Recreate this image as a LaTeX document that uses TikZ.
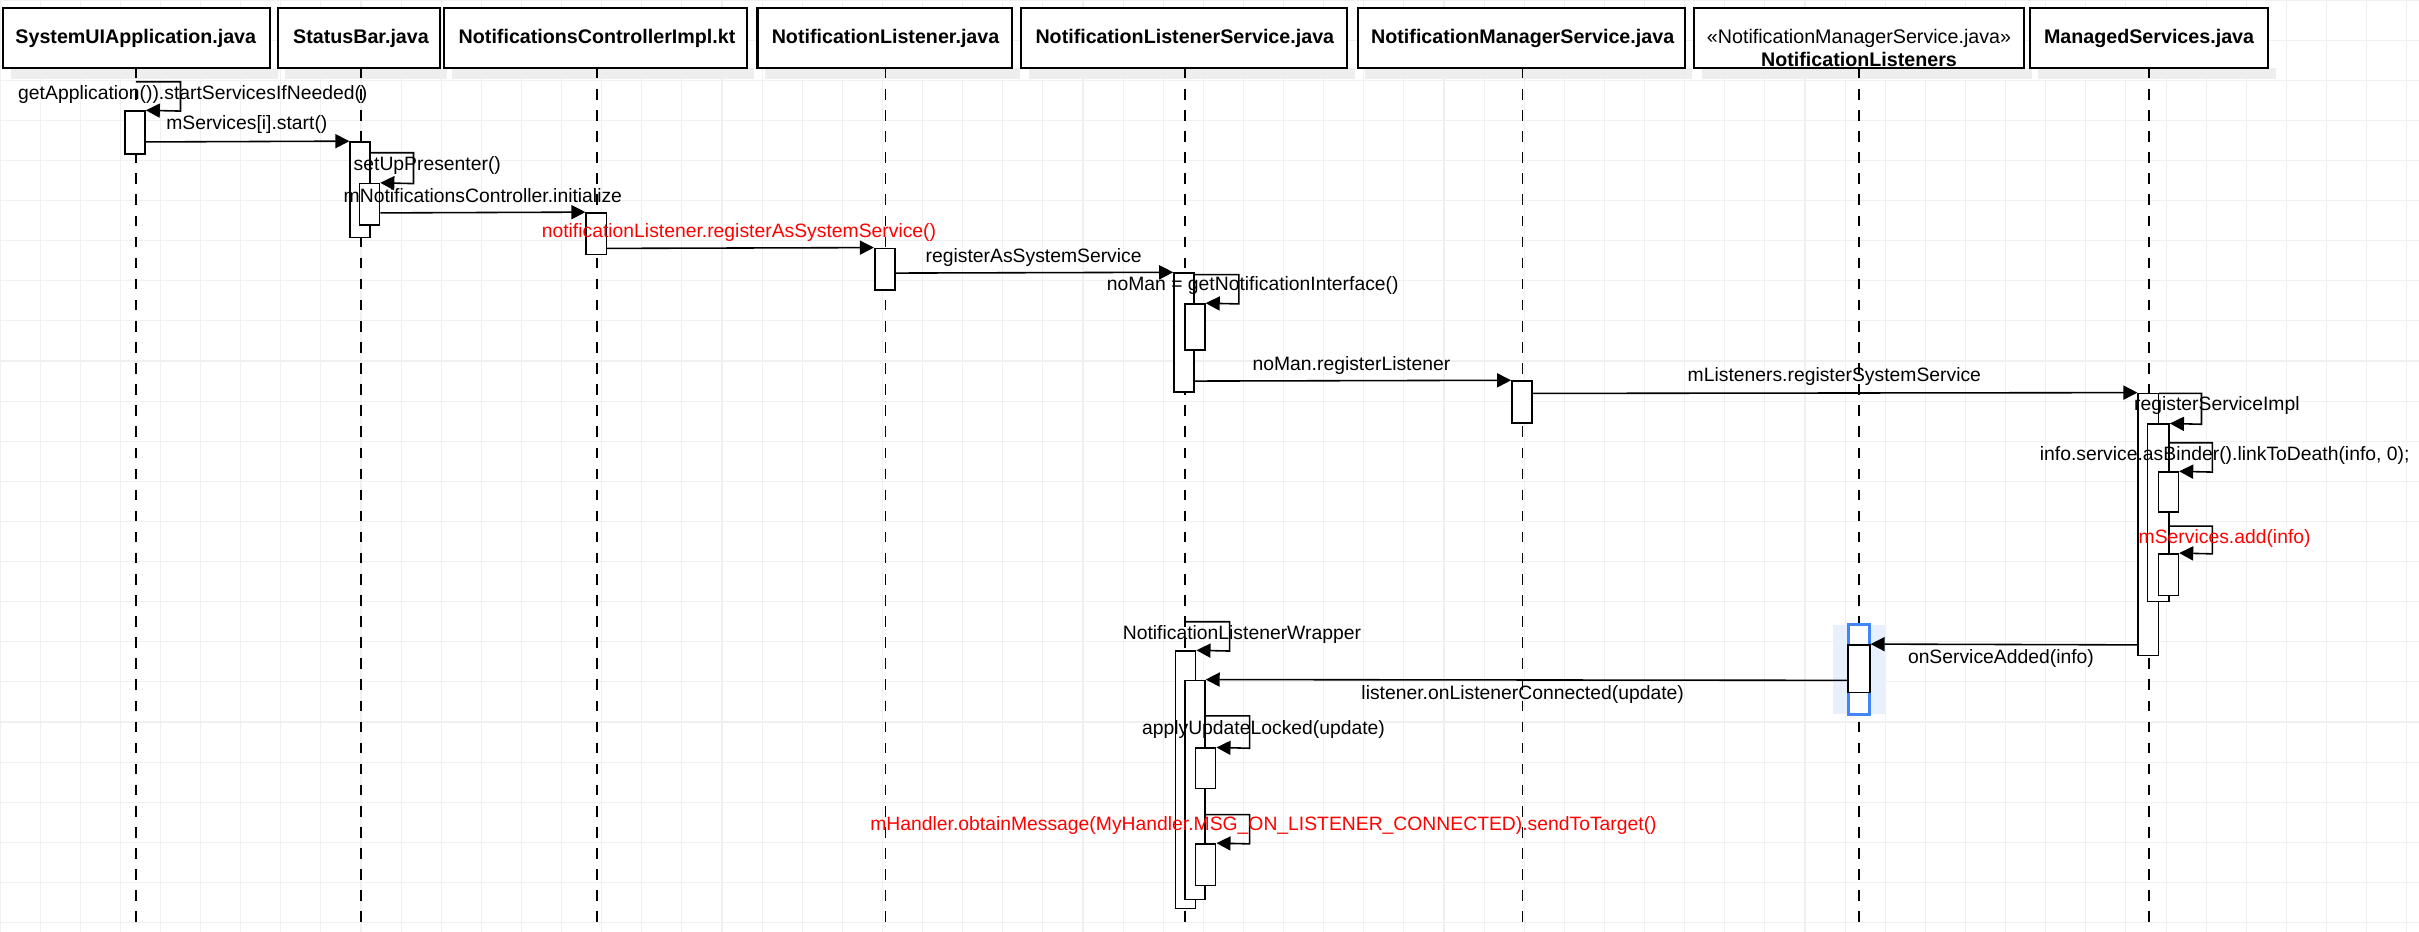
\documentclass[tikz,border=0pt]{standalone}
\usepackage{fontspec}
\setmainfont{Liberation Sans}
\usetikzlibrary{arrows.meta,fit}
\definecolor{gridgray}{RGB}{240,240,240}
\definecolor{selblue}{RGB}{66,133,244}
\tikzset{x=0.015427cm,y=-0.015427cm,
	head/.style={draw,line width=0.6pt,fill=white,inner sep=0pt,font=\fontsize{5.6}{6.6}\selectfont\bfseries,align=center},
	shade/.style={fill=gray!13,draw=none},
	life/.style={dashed,line width=0.45pt},
	act/.style={draw,line width=0.45pt,fill=white,inner sep=0pt},
	msg/.style={line width=0.45pt,-{Triangle[length=4pt,width=4pt]}},
	lbl/.style={font=\fontsize{5.5}{6.5}\selectfont,inner sep=0pt},
	hot/.style={lbl,text=red}}
\begin{document}
\begin{tikzpicture}
	\useasboundingbox (0,0) rectangle (1568,604);
	% background grid
	\foreach \gx in {0,26,...,1568} \draw[gridgray,line width=0.3pt] (\gx,0) -- (\gx,604);
	\foreach \gy in {0,26,...,604} \draw[gridgray,line width=0.3pt] (0,\gy) -- (1568,\gy);
	% headers with lifelines
	\foreach \name/\xa/\xb/\lx/\txt in {
		sys/2/175/88/{SystemUIApplication.java},
		bar/180/285/234/{StatusBar.java},
		ctl/288/484/387/{NotificationsControllerImpl.kt},
		nl/491/656/574/{NotificationListener.java},
		nls/662/873/768/{NotificationListenerService.java},
		nms/880/1092/987/{NotificationManagerService.java},
		lis/1098/1312/1205/{{\normalfont«NotificationManagerService.java»}\\NotificationListeners},
		ms/1316/1470/1393/{ManagedServices.java}}{
		\fill[shade] (\xa+5,44) rectangle (\xb+5,51);
		\node[head,fit={(\xa,5)(\xb,44)}] (\name) {};
		\node[font=\fontsize{5.6}{6.6}\selectfont\bfseries,align=center,anchor=north] at (\lx,11) {\txt};
		\coordinate (\name-top) at (\lx,44);
		\coordinate (\name-bot) at (\lx,604);
		\draw[life] (\name-top) -- (\name-bot);
	}
	% selection highlight
	\fill[selblue!12] (1188,405) rectangle (1222,463);
	% activations
	\node[act,fit={(81,72)(94,100)}] (a1) {};
	\node[act,fit={(227,92)(240,154)}] (a2) {};
	\node[act,fit={(233,119)(246,146)}] (a2b) {};
	\node[act,fit={(380,138)(393,165)}] (a3) {};
	\node[act,fit={(567,161)(580,188)}] (a4) {};
	\node[act,fit={(761,177)(774,254)}] (a5) {};
	\node[act,fit={(768,197)(781,227)}] (a5b) {};
	\node[act,fit={(980,247)(993,274)}] (a6) {};
	\node[act,fit={(1386,255)(1399,425)}] (a8) {};
	\node[act,fit={(1392,275)(1406,390)}] (a8b) {};
	\node[act,fit={(1399,306)(1412,332)}] (a8c) {};
	\node[act,fit={(1399,359)(1412,386)}] (a8d) {};
	\draw[selblue,line width=0.8pt,fill=white] (1198,405) rectangle (1212,463);
	\node[act,fit={(1198,418)(1212,449)}] (a7) {};
	\node[act,fit={(762,422)(775,589)}] (a5c) {};
	\node[act,fit={(768,441)(781,583)}] (a5d) {};
	\node[act,fit={(775,485)(788,511)}] (a5e) {};
	\node[act,fit={(775,547)(788,574)}] (a5f) {};
	% messages
	\draw[msg] (sys-top |- 0,53) -| (117,72) -- (a1.north east);
	\draw[msg] (a1.east |- 0,92) -- (a2.north west);
	\draw[msg] (a2.east |- 0,99) -| (268,119) -- (a2b.north east);
	\draw[msg] (a2b.east |- 0,138) -- (a3.north west);
	\draw[msg] (a3.east |- 0,161) -- (a4.north west);
	\draw[msg] (a4.east |- 0,177) -- (a5.north west);
	\draw[msg] (a5.east |- 0,178) -| (803,197) -- (a5b.north east);
	\draw[msg] (a5.east |- 0,247) -- (a6.north west);
	\draw[msg] (a6.east |- 0,255) -- (a8.north west);
	\draw[msg] (a8.east |- 0,255) -| (1427,275) -- (a8b.north east);
	\draw[msg] (a8b.east |- 0,287) -| (1434,306) -- (a8c.north east);
	\draw[msg] (a8b.east |- 0,341) -| (1434,359) -- (a8d.north east);
	\draw[msg] (a8.west |- 0,418) -- (a7.north east);
	\draw[msg] (nls-top |- 0,403) -| (797,422) -- (a5c.north east);
	\draw[msg] (a7.west |- 0,441) -- (a5d.north east);
	\draw[msg] (a5d.east |- 0,464) -| (810,485) -- (a5e.north east);
	\draw[msg] (a5d.east |- 0,528) -| (810,547) -- (a5f.north east);
	% labels
	\node[lbl] at (125,61) {getApplication()).startServicesIfNeeded()};
	\node[lbl] at (160,81) {mServices[i].start()};
	\node[lbl] at (277,107) {setUpPresenter()};
	\node[lbl] at (313,127) {mNotificationsController.initialize};
	\node[hot] at (479,151) {notificationListener.registerAsSystemService()};
	\node[lbl] at (670,167) {registerAsSystemService};
	\node[lbl] at (812,185) {noMan = getNotificationInterface()};
	\node[lbl] at (876,237) {noMan.registerListener};
	\node[lbl] at (1189,244) {mListeners.registerSystemService};
	\node[lbl] at (1437,263) {registerServiceImpl};
	\node[lbl] at (1442,295) {info.service.asBinder().linkToDeath(info, 0);};
	\node[hot] at (1442,349) {mServices.add(info)};
	\node[lbl] at (1297,427) {onServiceAdded(info)};
	\node[lbl] at (805,411) {NotificationListenerWrapper};
	\node[lbl] at (987,450) {listener.onListenerConnected(update)};
	\node[lbl] at (819,473) {applyUpdateLocked(update)};
	\node[hot] at (819,535) {mHandler.obtainMessage(MyHandler.MSG\_ON\_LISTENER\_CONNECTED).sendToTarget()};
\end{tikzpicture}
\end{document}
